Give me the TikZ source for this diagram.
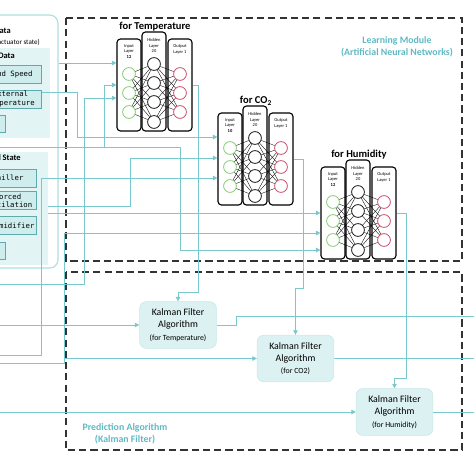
\documentclass[tikz,border=0pt]{standalone}
\usepackage{fontspec}
\setmainfont{Carlito}
\newfontfamily\boxmono{DejaVu Sans Mono}
\usetikzlibrary{arrows.meta}
\definecolor{flowteal}{RGB}{120,200,205}
\definecolor{labteal}{RGB}{95,185,195}
\definecolor{paneledge}{RGB}{175,222,224}
\definecolor{zonefill}{RGB}{226,244,244}
\definecolor{boxedge}{RGB}{95,170,175}
\definecolor{boxfill}{RGB}{208,237,237}
\definecolor{kffill}{RGB}{220,241,241}
\definecolor{kfedge}{RGB}{200,232,232}
\definecolor{ingreen}{RGB}{120,200,100}
\definecolor{outred}{RGB}{200,60,95}

% one network: prefix, x, y of input layer corner, title, input size
\newcommand{\annnet}[5]{%
  \begin{scope}[shift={(#2,#3)}]
    \node[layerbox, minimum height=2.3cm] (#1In) at (12,46) {};
    \node[layerbox, minimum height=2.475cm] (#1Hid) at (37,42.5) {};
    \node[layerbox, minimum height=2.3cm] (#1Out) at (63,46) {};
    \node[layertext] at (12,12.5) {Input\\Layer\\\textbf{#5}};
    \node[layertext] at (37,6.5) {Hidden\\Layer\\20};
    \node[layertext] at (63,10.5) {Output\\Layer 1};
    \node[nettitle] at (38,-12) {#4};
    \foreach \k/\yy in {1/35,2/54,3/73} {
      \node[incirc] (#1i\k) at (12,\yy) {};
      \node[outcirc] (#1o\k) at (63,\yy) {};
    }
    \foreach \k/\yy in {1/25,2/44,3/63,4/83}
      \node[hidcirc] (#1h\k) at (37,\yy) {};
    \foreach \a in {1,2,3}
      \foreach \b in {1,...,4} {
        \draw[mesh] (#1i\a) -- (#1h\b);
        \draw[mesh] (#1h\b) -- (#1o\a);
      }
  \end{scope}}

\begin{document}
\begin{tikzpicture}[x=0.025cm, y=-0.025cm,
  flow/.style={flowteal, line width=0.6pt},
  arr/.style={flow, -{Triangle[length=3.2pt,width=3.2pt]}},
  mesh/.style={black, line width=0.25pt},
  layerbox/.style={draw=black, line width=0.8pt, fill=white, rounded corners=2.5pt, minimum width=0.6cm, inner sep=0pt},
  incirc/.style={circle, draw=ingreen, line width=0.5pt, fill=white, minimum size=0.32cm, inner sep=0pt},
  hidcirc/.style={incirc, draw=black},
  outcirc/.style={incirc, draw=outred},
  layertext/.style={align=center, inner sep=0pt, font=\fontsize{3.2}{4.2}\selectfont},
  nettitle/.style={inner sep=0pt, font=\bfseries\fontsize{7.5}{9}\selectfont},
  kfbox/.style={draw=kfedge, fill=kffill, rounded corners=5pt, minimum width=1.92cm, minimum height=1.17cm, align=center, inner sep=1pt, font=\fontsize{7}{8.8}\selectfont},
  modlabel/.style={text=labteal, align=center, font=\bfseries\fontsize{7}{8.5}\selectfont},
  zone/.style={draw=black!80, line width=0.9pt, dash pattern=on 5pt off 3pt},
  outerbox/.style={draw=paneledge, line width=0.8pt, fill=white, rounded corners=6pt},
  zonebox/.style={fill=zonefill, inner sep=0pt},
  devbox/.style={draw=boxedge, fill=boxfill, line width=0.7pt, inner sep=0pt, align=center, minimum height=0.45cm, font=\boxmono\fontsize{5.2}{5.8}\selectfont},
  paneltitle/.style={inner sep=0pt, font=\bfseries\fontsize{6}{7}\selectfont},
  panelnote/.style={inner sep=0pt, font=\fontsize{5}{6}\selectfont}]
\clip (0,0) rectangle (474,474);

% left panel with data sources
\node[outerbox, minimum width=1.95cm, minimum height=6.325cm] (panel) at (19,141.5) {};
\node[paneltitle, anchor=east] (paneltop) at (11,31) {Input Data};
\node[panelnote, anchor=east] (panelsub) at (40,42) {(actuator state)};
\node[zonebox, minimum width=1.75cm, minimum height=2.25cm] (sensorzone) at (15,93) {};
\node[paneltitle, anchor=east] (sensortitle) at (15,56) {Sensor Data};
\node[devbox, minimum width=1.525cm] (wind) at (10.5,74) {Wind Speed};
\node[devbox, minimum width=1.525cm] (exttemp) at (10.5,99) {External\\Temperature};
\node[devbox, minimum width=0.625cm, minimum height=0.425cm] (sensorx) at (-7.5,123.5) {};
\node[zonebox, minimum width=1.7cm, minimum height=2.825cm] (actzone) at (14,208.5) {};
\node[paneltitle, anchor=east] (acttitle) at (21,158) {Control State};
\node[devbox, minimum width=1.4cm] (chiller) at (8,178) {Chiller};
\node[devbox, minimum width=1.4cm] (forced) at (8,200.5) {Forced\\Ventilation};
\node[devbox, minimum width=1.4cm] (dehum) at (8,225.5) {Dehumidifier};
\node[devbox, minimum width=0.625cm, minimum height=0.425cm] (actx) at (-7.5,250.5) {};

% the two modules
\draw[zone] (66,18) rectangle (462,261);
\draw[zone] (66,272) rectangle (462,450);
\node[modlabel] (lmlabel) at (397,47) {Learning Module\\(Artificial Neural Networks)};
\node[modlabel] (palabel) at (125,434) {Prediction Algorithm\\(Kalman Filter)};

% networks
\annnet{t}{117}{39}{for Temperature}{12}
\annnet{c}{218}{113}{for CO\textsubscript{2}}{10}
\annnet{h}{321}{167}{for Humidity}{12}

% kalman filters
\node[kfbox] (kfT) at (178,325) {Kalman Filter\\Algorithm\\{\fontsize{5.6}{7}\selectfont (for Temperature)}};
\node[kfbox] (kfC) at (295.5,358.5) {Kalman Filter\\Algorithm\\{\fontsize{5.6}{7}\selectfont (for CO2)}};
\node[kfbox] (kfH) at (394.5,412) {Kalman Filter\\Algorithm\\{\fontsize{5.6}{7}\selectfont (for Humidity)}};

\coordinate (srcA) at (0,147);
\coordinate (srcB) at (0,284);
\coordinate (srcC) at (0,355);
\coordinate (srcD) at (0,363);
\coordinate (srcE) at (0,325);
\coordinate (srcF) at (0,412);
\coordinate (outT) at (474,316);
\coordinate (outC) at (474,358.5);
\coordinate (outH) at (474,412);

% inputs of the networks
\draw[arr] (panel.east |- 0,63) -- (tIn.west |- 0,63);
\draw[arr] (srcA) -| (180,250) -- (hIn.west |- 0,250);
\draw[arr] (104,147) |- (tIn.west |- 0,85);
\draw[arr] (srcB) -| (84,98) -- (tIn.west |- 0,98);
\draw[arr] (exttemp.east |- 0,92) -| (77,137) -- (cIn.west |- 0,137);
\draw[arr] (actzone.east |- 0,206) -| (130,158) -- (cIn.west |- 0,158);
\draw[arr] (srcC) -| (41,178) -- (cIn.west |- 0,178);
\draw[arr] (actzone.east |- 0,213) -- (hIn.west |- 0,213);
\draw[arr] (srcD) -| (64,233) -- (hIn.west |- 0,233);

% inputs of the filters
\draw[arr] (srcE) -- (kfT.west);
\draw[arr] (64,358.5) -- (kfC.west);
\draw[arr] (srcF) -- (kfH.west);
\draw[arr] (tOut.east) -| (198,292) -| (kfT.north);
\draw[arr] (cOut.east) -| (303,288) -| (kfC.north);
\draw[arr] (hOut.east) -| (406,378) -| (kfH.north);

% outputs
\draw[flow] (kfT.east) -| (236,316) -- (outT);
\draw[flow] (kfC.east) -- (outC);
\draw[flow] (kfH.east) -- (outH);
\end{tikzpicture}
\end{document}
